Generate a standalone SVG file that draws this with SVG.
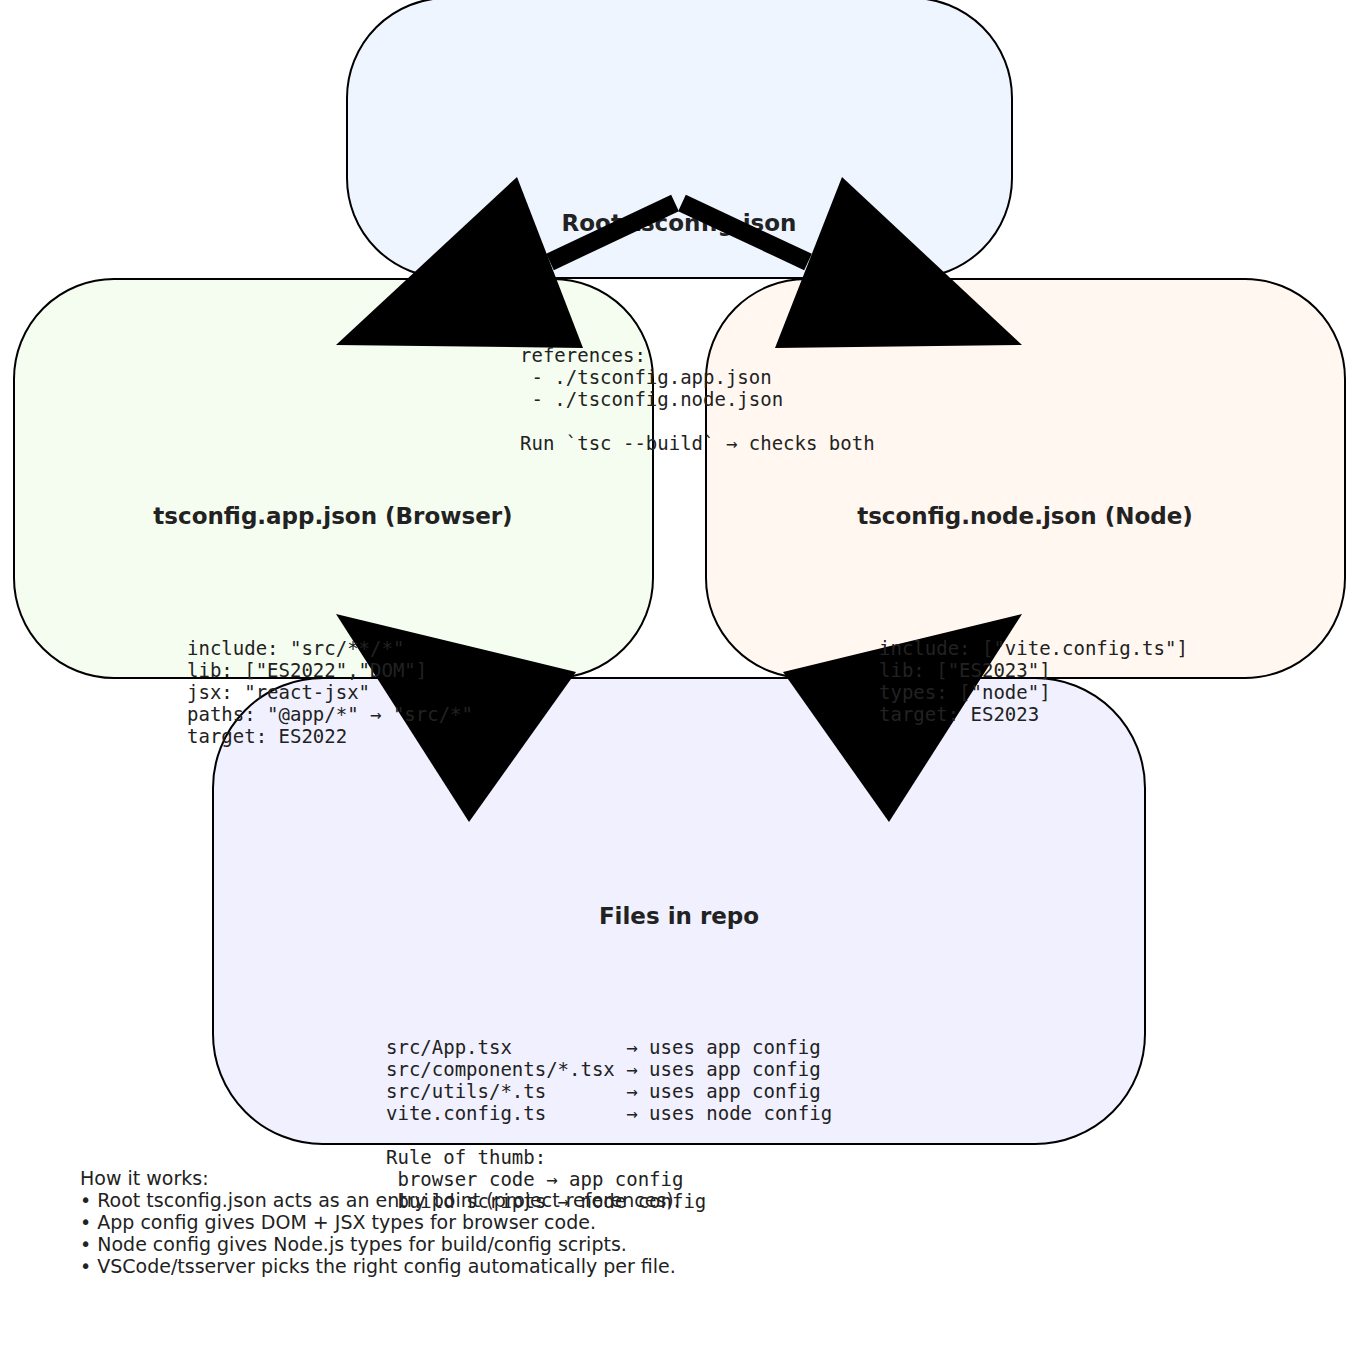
<svg xmlns="http://www.w3.org/2000/svg" width="1358" height="1358" viewBox="0 0 1358 1358">
<style>
.box{stroke:#000;stroke-width:2}
.title{font-family:"DejaVu Sans",sans-serif;font-weight:bold;font-size:23px;fill:#222;text-anchor:middle}
.mono{font-family:"DejaVu Sans Mono",monospace;font-size:19px;fill:#222}
.note{font-family:"DejaVu Sans",sans-serif;font-size:19px;fill:#222}
.line{stroke:#000;stroke-width:18;fill:none}
</style>
<rect width="1358" height="1358" fill="#fff"/>
<g id="root">
<rect class="box" x="347" y="-2" width="665" height="280" rx="100" fill="#eef5ff"/>
<text class="title" x="679" y="231">Root tsconfig.json</text>
</g>
<g id="app">
<rect class="box" x="14" y="279" width="639" height="399" rx="100" fill="#f5fdf0"/>
<text class="title" x="333" y="524">tsconfig.app.json (Browser)</text>
</g>
<g id="node">
<rect class="box" x="706" y="279" width="639" height="399" rx="100" fill="#fff7f0"/>
<text class="title" x="1025" y="524">tsconfig.node.json (Node)</text>
</g>
<g id="files">
<rect class="box" x="213" y="678" width="932" height="466" rx="110" fill="#f0f0fe"/>
<text class="title" x="679" y="924">Files in repo</text>
</g>
<g id="connectors">
<path class="line" d="M675 203 L550 262"/>
<path class="line" d="M682 203 L808 262"/>
<polygon points="517,177 336,345 583,348"/>
<polygon points="842,177 775,348 1022,345"/>
<polygon points="336,614 576,672 469,822"/>
<polygon points="1022,614 783,672 889,822"/>
</g>
<g id="details" class="mono">
<text x="520" y="362">references:</text>
<text x="520" y="384" xml:space="preserve"> - ./tsconfig.app.json</text>
<text x="520" y="406" xml:space="preserve"> - ./tsconfig.node.json</text>
<text x="520" y="450">Run `tsc --build` → checks both</text>
<text x="187" y="655">include: "src/**/*"</text>
<text x="187" y="677">lib: ["ES2022","DOM"]</text>
<text x="187" y="699">jsx: "react-jsx"</text>
<text x="187" y="721">paths: "@app/*" → "src/*"</text>
<text x="187" y="743">target: ES2022</text>
<text x="879" y="655">include: ["vite.config.ts"]</text>
<text x="879" y="677">lib: ["ES2023"]</text>
<text x="879" y="699">types: ["node"]</text>
<text x="879" y="721">target: ES2023</text>
<text x="386" y="1054" xml:space="preserve">src/App.tsx          → uses app config</text>
<text x="386" y="1076" xml:space="preserve">src/components/*.tsx → uses app config</text>
<text x="386" y="1098" xml:space="preserve">src/utils/*.ts       → uses app config</text>
<text x="386" y="1120" xml:space="preserve">vite.config.ts       → uses node config</text>
<text x="386" y="1164">Rule of thumb:</text>
<text x="386" y="1186" xml:space="preserve"> browser code → app config</text>
<text x="386" y="1208" xml:space="preserve"> build scripts → node config</text>
</g>
<g id="notes" class="note">
<text x="80" y="1185">How it works:</text>
<text x="80" y="1207">• Root tsconfig.json acts as an entry point (project references).</text>
<text x="80" y="1229">• App config gives DOM + JSX types for browser code.</text>
<text x="80" y="1251">• Node config gives Node.js types for build/config scripts.</text>
<text x="80" y="1273">• VSCode/tsserver picks the right config automatically per file.</text>
</g>
</svg>
